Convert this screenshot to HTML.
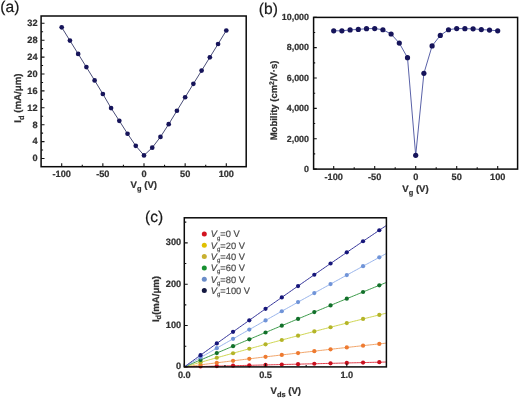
<!DOCTYPE html>
<html><head><meta charset="utf-8"><title>Figure</title><style>html,body{margin:0;padding:0;background:#fff;width:520px;height:398px;overflow:hidden}</style></head><body>
<svg width="520" height="398" viewBox="0 0 520 398" style="display:block;filter:blur(0.3px);font-family:'Liberation Sans', Arial, sans-serif" text-rendering="geometricPrecision">
<style>text[font-weight=bold]{stroke:#333;stroke-width:0.22px}</style>
<rect width="520" height="398" fill="#fff"/>
<text x="0.3" y="12" font-size="15.6" text-anchor="start" font-weight="normal" fill="#1a1a1a" stroke="#1a1a1a" stroke-width="0.2">(a)</text>
<text x="258.8" y="14" font-size="15.6" text-anchor="start" font-weight="normal" fill="#1a1a1a" stroke="#1a1a1a" stroke-width="0.2">(b)</text>
<text x="145" y="221.6" font-size="15.6" text-anchor="start" font-weight="normal" fill="#1a1a1a" stroke="#1a1a1a" stroke-width="0.2">(c)</text>
<polyline points="61.7,27.31 69.93,40.62 78.16,53.89 86.39,67.11 94.62,80.38 102.85,93.98 111.08,108.1 119.31,120.81 127.54,133.74 135.77,145.82 144,155.42 152.23,147.68 160.46,136.91 168.69,124.19 176.92,110.76 185.15,97.24 193.38,83.8 201.61,70.62 209.84,57.31 218.07,44 226.3,30.48" fill="none" stroke="#4a4e78" stroke-width="1"/>
<circle cx="61.7" cy="27.31" r="2.35" fill="#16145a"/>
<circle cx="69.93" cy="40.62" r="2.35" fill="#16145a"/>
<circle cx="78.16" cy="53.89" r="2.35" fill="#16145a"/>
<circle cx="86.39" cy="67.11" r="2.35" fill="#16145a"/>
<circle cx="94.62" cy="80.38" r="2.35" fill="#16145a"/>
<circle cx="102.85" cy="93.98" r="2.35" fill="#16145a"/>
<circle cx="111.08" cy="108.1" r="2.35" fill="#16145a"/>
<circle cx="119.31" cy="120.81" r="2.35" fill="#16145a"/>
<circle cx="127.54" cy="133.74" r="2.35" fill="#16145a"/>
<circle cx="135.77" cy="145.82" r="2.35" fill="#16145a"/>
<circle cx="144" cy="155.42" r="2.35" fill="#16145a"/>
<circle cx="152.23" cy="147.68" r="2.35" fill="#16145a"/>
<circle cx="160.46" cy="136.91" r="2.35" fill="#16145a"/>
<circle cx="168.69" cy="124.19" r="2.35" fill="#16145a"/>
<circle cx="176.92" cy="110.76" r="2.35" fill="#16145a"/>
<circle cx="185.15" cy="97.24" r="2.35" fill="#16145a"/>
<circle cx="193.38" cy="83.8" r="2.35" fill="#16145a"/>
<circle cx="201.61" cy="70.62" r="2.35" fill="#16145a"/>
<circle cx="209.84" cy="57.31" r="2.35" fill="#16145a"/>
<circle cx="218.07" cy="44" r="2.35" fill="#16145a"/>
<circle cx="226.3" cy="30.48" r="2.35" fill="#16145a"/>
<rect x="41.1" y="16" width="205.1" height="150.7" fill="none" stroke="#0a0a0a" stroke-width="1.5"/>
<path d="M61.7 166.7v-3.4M102.85 166.7v-3.4M144 166.7v-3.4M185.15 166.7v-3.4M226.3 166.7v-3.4" stroke="#111" stroke-width="1.1" fill="none"/>
<path d="M82.28 166.7v-2M123.42 166.7v-2M164.57 166.7v-2M205.72 166.7v-2" stroke="#111" stroke-width="1.1" fill="none"/>
<path d="M41.1 158.5h3.4M41.1 141.6h3.4M41.1 124.7h3.4M41.1 107.8h3.4M41.1 90.9h3.4M41.1 74h3.4M41.1 57.1h3.4M41.1 40.2h3.4M41.1 23.3h3.4" stroke="#111" stroke-width="1.1" fill="none"/>
<path d="M41.1 150.05h2M41.1 133.15h2M41.1 116.25h2M41.1 99.35h2M41.1 82.45h2M41.1 65.55h2M41.1 48.65h2M41.1 31.75h2" stroke="#111" stroke-width="1.1" fill="none"/>
<text x="37.5" y="161.3" font-size="9.2" text-anchor="end" font-weight="bold" fill="#303030">0</text>
<text x="37.5" y="144.4" font-size="9.2" text-anchor="end" font-weight="bold" fill="#303030">4</text>
<text x="37.5" y="127.5" font-size="9.2" text-anchor="end" font-weight="bold" fill="#303030">8</text>
<text x="37.5" y="110.6" font-size="9.2" text-anchor="end" font-weight="bold" fill="#303030">12</text>
<text x="37.5" y="93.7" font-size="9.2" text-anchor="end" font-weight="bold" fill="#303030">16</text>
<text x="37.5" y="76.8" font-size="9.2" text-anchor="end" font-weight="bold" fill="#303030">20</text>
<text x="37.5" y="59.9" font-size="9.2" text-anchor="end" font-weight="bold" fill="#303030">24</text>
<text x="37.5" y="43" font-size="9.2" text-anchor="end" font-weight="bold" fill="#303030">28</text>
<text x="37.5" y="26.1" font-size="9.2" text-anchor="end" font-weight="bold" fill="#303030">32</text>
<text x="61.7" y="177.3" font-size="9.2" text-anchor="middle" font-weight="bold" fill="#303030">-100</text>
<text x="102.85" y="177.3" font-size="9.2" text-anchor="middle" font-weight="bold" fill="#303030">-50</text>
<text x="144" y="177.3" font-size="9.2" text-anchor="middle" font-weight="bold" fill="#303030">0</text>
<text x="185.15" y="177.3" font-size="9.2" text-anchor="middle" font-weight="bold" fill="#303030">50</text>
<text x="226.3" y="177.3" font-size="9.2" text-anchor="middle" font-weight="bold" fill="#303030">100</text>
<text transform="translate(21.0 98.1) rotate(-90)" font-size="9.7" font-weight="bold" text-anchor="middle" fill="#303030">I<tspan font-size="7.4" dy="2.6">d</tspan><tspan dy="-2.6"> (mA/&#956;m)</tspan></text>
<text x="143.8" y="188.2" font-size="9.6" font-weight="bold" text-anchor="middle" fill="#303030">V<tspan font-size="7.4" dy="3">g</tspan><tspan dy="-3"> (V)</tspan></text>
<polyline points="333.7,30.81 341.9,30.81 350.1,29.9 358.3,29.44 366.5,28.68 374.7,28.53 382.9,29.75 391.1,34 399.3,43.11 407.5,57.68 415.7,155.3 423.9,73.37 432.1,45.91 440.3,35.39 448.5,29.75 456.7,28.53 464.9,28.68 473.1,28.84 481.3,29.6 489.5,30.05 497.7,30.81" fill="none" stroke="#5a62a8" stroke-width="1" stroke-linejoin="round"/>
<circle cx="333.7" cy="30.81" r="2.6" fill="#16145a"/>
<circle cx="341.9" cy="30.81" r="2.6" fill="#16145a"/>
<circle cx="350.1" cy="29.9" r="2.6" fill="#16145a"/>
<circle cx="358.3" cy="29.44" r="2.6" fill="#16145a"/>
<circle cx="366.5" cy="28.68" r="2.6" fill="#16145a"/>
<circle cx="374.7" cy="28.53" r="2.6" fill="#16145a"/>
<circle cx="382.9" cy="29.75" r="2.6" fill="#16145a"/>
<circle cx="391.1" cy="34" r="2.6" fill="#16145a"/>
<circle cx="399.3" cy="43.11" r="2.6" fill="#16145a"/>
<circle cx="407.5" cy="57.68" r="2.6" fill="#16145a"/>
<circle cx="415.7" cy="155.3" r="2.6" fill="#16145a"/>
<circle cx="423.9" cy="73.37" r="2.6" fill="#16145a"/>
<circle cx="432.1" cy="45.91" r="2.6" fill="#16145a"/>
<circle cx="440.3" cy="35.39" r="2.6" fill="#16145a"/>
<circle cx="448.5" cy="29.75" r="2.6" fill="#16145a"/>
<circle cx="456.7" cy="28.53" r="2.6" fill="#16145a"/>
<circle cx="464.9" cy="28.68" r="2.6" fill="#16145a"/>
<circle cx="473.1" cy="28.84" r="2.6" fill="#16145a"/>
<circle cx="481.3" cy="29.6" r="2.6" fill="#16145a"/>
<circle cx="489.5" cy="30.05" r="2.6" fill="#16145a"/>
<circle cx="497.7" cy="30.81" r="2.6" fill="#16145a"/>
<rect x="313.6" y="17.4" width="204" height="151.7" fill="none" stroke="#0a0a0a" stroke-width="1.5"/>
<path d="M333.7 169.1v-3M374.7 169.1v-3M415.7 169.1v-3M456.7 169.1v-3M497.7 169.1v-3" stroke="#111" stroke-width="1.1" fill="none"/>
<path d="M354.2 169.1v-1.8M395.2 169.1v-1.8M436.2 169.1v-1.8M477.2 169.1v-1.8" stroke="#111" stroke-width="1.1" fill="none"/>
<path d="M313.6 169.1h3.2M313.6 138.74h3.2M313.6 108.38h3.2M313.6 78.02h3.2M313.6 47.66h3.2M313.6 17.3h3.2" stroke="#111" stroke-width="1.1" fill="none"/>
<path d="M313.6 153.92h1.6M313.6 123.56h1.6M313.6 93.2h1.6M313.6 62.84h1.6M313.6 32.48h1.6" stroke="#111" stroke-width="1.1" fill="none"/>
<text x="309" y="171.9" font-size="8.9" text-anchor="end" font-weight="bold" fill="#303030">0</text>
<text x="309" y="141.54" font-size="8.9" text-anchor="end" font-weight="bold" fill="#303030">2,000</text>
<text x="309" y="111.18" font-size="8.9" text-anchor="end" font-weight="bold" fill="#303030">4,000</text>
<text x="309" y="80.82" font-size="8.9" text-anchor="end" font-weight="bold" fill="#303030">6,000</text>
<text x="309" y="50.46" font-size="8.9" text-anchor="end" font-weight="bold" fill="#303030">8,000</text>
<text x="309" y="20.1" font-size="8.9" text-anchor="end" font-weight="bold" fill="#303030">10,000</text>
<text x="333.7" y="180" font-size="9.2" text-anchor="middle" font-weight="bold" fill="#303030">-100</text>
<text x="374.7" y="180" font-size="9.2" text-anchor="middle" font-weight="bold" fill="#303030">-50</text>
<text x="415.7" y="180" font-size="9.2" text-anchor="middle" font-weight="bold" fill="#303030">0</text>
<text x="456.7" y="180" font-size="9.2" text-anchor="middle" font-weight="bold" fill="#303030">50</text>
<text x="497.7" y="180" font-size="9.2" text-anchor="middle" font-weight="bold" fill="#303030">100</text>
<text transform="translate(277.0 100.4) rotate(-90)" font-size="9.5" font-weight="bold" text-anchor="middle" fill="#303030">Mobility (cm<tspan font-size="6.8" dy="-3.4">2</tspan><tspan dy="3.4">/V&#183;s)</tspan></text>
<text x="415.5" y="192.2" font-size="9.6" font-weight="bold" text-anchor="middle" fill="#303030">V<tspan font-size="7.4" dy="3">g</tspan><tspan dy="-3"> (V)</tspan></text>
<polyline points="184.3,366.9 185.93,366.86 187.55,366.82 189.18,366.78 190.8,366.74 192.43,366.7 194.05,366.66 195.68,366.63 197.3,366.59 198.93,366.55 200.55,366.51 202.18,366.47 203.8,366.43 205.43,366.39 207.05,366.35 208.68,366.31 210.3,366.27 211.93,366.23 213.55,366.19 215.18,366.15 216.8,366.11 218.43,366.08 220.05,366.04 221.68,366 223.3,365.96 224.93,365.92 226.55,365.88 228.18,365.84 229.8,365.8 231.43,365.76 233.05,365.72 234.68,365.68 236.3,365.64 237.93,365.6 239.55,365.56 241.18,365.53 242.8,365.49 244.43,365.45 246.05,365.41 247.68,365.37 249.3,365.33 250.93,365.29 252.55,365.25 254.18,365.21 255.8,365.17 257.43,365.13 259.05,365.09 260.68,365.05 262.3,365.01 263.93,364.98 265.55,364.94 267.18,364.9 268.8,364.86 270.43,364.82 272.05,364.78 273.68,364.74 275.3,364.7 276.93,364.66 278.55,364.62 280.18,364.58 281.8,364.54 283.43,364.5 285.05,364.46 286.68,364.43 288.3,364.39 289.93,364.35 291.55,364.31 293.18,364.27 294.8,364.23 296.43,364.19 298.05,364.15 299.68,364.11 301.3,364.07 302.93,364.03 304.55,363.99 306.18,363.95 307.8,363.91 309.43,363.88 311.05,363.84 312.68,363.8 314.3,363.76 315.93,363.72 317.55,363.68 319.18,363.64 320.8,363.6 322.43,363.56 324.05,363.52 325.68,363.48 327.3,363.44 328.93,363.4 330.55,363.36 332.18,363.33 333.8,363.29 335.43,363.25 337.05,363.21 338.68,363.17 340.3,363.13 341.93,363.09 343.55,363.05 345.18,363.01 346.8,362.97 348.43,362.93 350.05,362.89 351.68,362.85 353.3,362.81 354.93,362.78 356.55,362.74 358.18,362.7 359.8,362.66 361.43,362.62 363.05,362.58 364.68,362.54 366.3,362.5 367.93,362.46 369.55,362.42 371.18,362.38 372.8,362.34 374.43,362.3 376.05,362.26 377.68,362.23 379.3,362.19 380.93,362.15 382.55,362.11 384.18,362.07 385.8,362.03 386.69,362.01" fill="none" stroke="#e23a48" stroke-width="1"/>
<polyline points="184.3,366.9 185.93,366.69 187.55,366.49 189.18,366.28 190.8,366.07 192.43,365.87 194.05,365.66 195.68,365.46 197.3,365.25 198.93,365.05 200.55,364.84 202.18,364.64 203.8,364.44 205.43,364.23 207.05,364.03 208.68,363.83 210.3,363.62 211.93,363.42 213.55,363.22 215.18,363.02 216.8,362.81 218.43,362.61 220.05,362.41 221.68,362.21 223.3,362.01 224.93,361.81 226.55,361.61 228.18,361.41 229.8,361.21 231.43,361.01 233.05,360.81 234.68,360.61 236.3,360.41 237.93,360.21 239.55,360.01 241.18,359.82 242.8,359.62 244.43,359.42 246.05,359.22 247.68,359.03 249.3,358.83 250.93,358.63 252.55,358.44 254.18,358.24 255.8,358.04 257.43,357.85 259.05,357.65 260.68,357.46 262.3,357.26 263.93,357.07 265.55,356.87 267.18,356.68 268.8,356.48 270.43,356.29 272.05,356.1 273.68,355.9 275.3,355.71 276.93,355.52 278.55,355.33 280.18,355.13 281.8,354.94 283.43,354.75 285.05,354.56 286.68,354.37 288.3,354.18 289.93,353.99 291.55,353.79 293.18,353.6 294.8,353.41 296.43,353.22 298.05,353.04 299.68,352.85 301.3,352.66 302.93,352.47 304.55,352.28 306.18,352.09 307.8,351.9 309.43,351.72 311.05,351.53 312.68,351.34 314.3,351.15 315.93,350.97 317.55,350.78 319.18,350.59 320.8,350.41 322.43,350.22 324.05,350.04 325.68,349.85 327.3,349.67 328.93,349.48 330.55,349.3 332.18,349.11 333.8,348.93 335.43,348.75 337.05,348.56 338.68,348.38 340.3,348.2 341.93,348.01 343.55,347.83 345.18,347.65 346.8,347.47 348.43,347.28 350.05,347.1 351.68,346.92 353.3,346.74 354.93,346.56 356.55,346.38 358.18,346.2 359.8,346.02 361.43,345.84 363.05,345.66 364.68,345.48 366.3,345.3 367.93,345.12 369.55,344.94 371.18,344.76 372.8,344.59 374.43,344.41 376.05,344.23 377.68,344.05 379.3,343.88 380.93,343.7 382.55,343.52 384.18,343.35 385.8,343.17 386.69,343.07" fill="none" stroke="#f2a468" stroke-width="1"/>
<polyline points="184.3,366.9 185.93,366.44 187.55,365.97 189.18,365.51 190.8,365.05 192.43,364.59 194.05,364.13 195.68,363.67 197.3,363.21 198.93,362.75 200.55,362.29 202.18,361.84 203.8,361.38 205.43,360.92 207.05,360.46 208.68,360.01 210.3,359.55 211.93,359.1 213.55,358.64 215.18,358.19 216.8,357.74 218.43,357.28 220.05,356.83 221.68,356.38 223.3,355.93 224.93,355.48 226.55,355.03 228.18,354.58 229.8,354.13 231.43,353.68 233.05,353.23 234.68,352.78 236.3,352.33 237.93,351.89 239.55,351.44 241.18,350.99 242.8,350.55 244.43,350.1 246.05,349.66 247.68,349.22 249.3,348.77 250.93,348.33 252.55,347.89 254.18,347.44 255.8,347 257.43,346.56 259.05,346.12 260.68,345.68 262.3,345.24 263.93,344.8 265.55,344.36 267.18,343.93 268.8,343.49 270.43,343.05 272.05,342.61 273.68,342.18 275.3,341.74 276.93,341.31 278.55,340.87 280.18,340.44 281.8,340.01 283.43,339.57 285.05,339.14 286.68,338.71 288.3,338.28 289.93,337.85 291.55,337.41 293.18,336.98 294.8,336.56 296.43,336.13 298.05,335.7 299.68,335.27 301.3,334.84 302.93,334.41 304.55,333.99 306.18,333.56 307.8,333.14 309.43,332.71 311.05,332.29 312.68,331.86 314.3,331.44 315.93,331.02 317.55,330.59 319.18,330.17 320.8,329.75 322.43,329.33 324.05,328.91 325.68,328.49 327.3,328.07 328.93,327.65 330.55,327.23 332.18,326.81 333.8,326.39 335.43,325.98 337.05,325.56 338.68,325.14 340.3,324.73 341.93,324.31 343.55,323.9 345.18,323.48 346.8,323.07 348.43,322.66 350.05,322.24 351.68,321.83 353.3,321.42 354.93,321.01 356.55,320.6 358.18,320.19 359.8,319.78 361.43,319.37 363.05,318.96 364.68,318.55 366.3,318.14 367.93,317.74 369.55,317.33 371.18,316.92 372.8,316.52 374.43,316.11 376.05,315.71 377.68,315.3 379.3,314.9 380.93,314.49 382.55,314.09 384.18,313.69 385.8,313.29 386.69,313.07" fill="none" stroke="#cfd650" stroke-width="1"/>
<polyline points="184.3,366.9 185.93,366.21 187.55,365.51 189.18,364.82 190.8,364.12 192.43,363.43 194.05,362.74 195.68,362.04 197.3,361.35 198.93,360.66 200.55,359.97 202.18,359.27 203.8,358.58 205.43,357.89 207.05,357.2 208.68,356.51 210.3,355.82 211.93,355.13 213.55,354.44 215.18,353.75 216.8,353.06 218.43,352.37 220.05,351.68 221.68,350.99 223.3,350.3 224.93,349.61 226.55,348.92 228.18,348.23 229.8,347.55 231.43,346.86 233.05,346.17 234.68,345.48 236.3,344.8 237.93,344.11 239.55,343.42 241.18,342.74 242.8,342.05 244.43,341.37 246.05,340.68 247.68,340 249.3,339.31 250.93,338.63 252.55,337.94 254.18,337.26 255.8,336.57 257.43,335.89 259.05,335.21 260.68,334.52 262.3,333.84 263.93,333.16 265.55,332.48 267.18,331.79 268.8,331.11 270.43,330.43 272.05,329.75 273.68,329.07 275.3,328.39 276.93,327.71 278.55,327.03 280.18,326.35 281.8,325.67 283.43,324.99 285.05,324.31 286.68,323.63 288.3,322.95 289.93,322.27 291.55,321.59 293.18,320.91 294.8,320.24 296.43,319.56 298.05,318.88 299.68,318.2 301.3,317.53 302.93,316.85 304.55,316.17 306.18,315.5 307.8,314.82 309.43,314.15 311.05,313.47 312.68,312.79 314.3,312.12 315.93,311.44 317.55,310.77 319.18,310.1 320.8,309.42 322.43,308.75 324.05,308.07 325.68,307.4 327.3,306.73 328.93,306.06 330.55,305.38 332.18,304.71 333.8,304.04 335.43,303.37 337.05,302.7 338.68,302.02 340.3,301.35 341.93,300.68 343.55,300.01 345.18,299.34 346.8,298.67 348.43,298 350.05,297.33 351.68,296.66 353.3,296 354.93,295.33 356.55,294.66 358.18,293.99 359.8,293.32 361.43,292.65 363.05,291.99 364.68,291.32 366.3,290.65 367.93,289.99 369.55,289.32 371.18,288.65 372.8,287.99 374.43,287.32 376.05,286.66 377.68,285.99 379.3,285.32 380.93,284.66 382.55,284 384.18,283.33 385.8,282.67 386.69,282.3" fill="none" stroke="#3a9a48" stroke-width="1"/>
<polyline points="184.3,366.9 185.93,365.96 187.55,365.02 189.18,364.07 190.8,363.13 192.43,362.19 194.05,361.25 195.68,360.31 197.3,359.37 198.93,358.44 200.55,357.5 202.18,356.56 203.8,355.62 205.43,354.69 207.05,353.75 208.68,352.81 210.3,351.88 211.93,350.94 213.55,350.01 215.18,349.08 216.8,348.14 218.43,347.21 220.05,346.28 221.68,345.35 223.3,344.42 224.93,343.49 226.55,342.56 228.18,341.63 229.8,340.7 231.43,339.77 233.05,338.84 234.68,337.91 236.3,336.99 237.93,336.06 239.55,335.13 241.18,334.21 242.8,333.28 244.43,332.36 246.05,331.43 247.68,330.51 249.3,329.59 250.93,328.66 252.55,327.74 254.18,326.82 255.8,325.9 257.43,324.98 259.05,324.06 260.68,323.14 262.3,322.22 263.93,321.3 265.55,320.38 267.18,319.46 268.8,318.55 270.43,317.63 272.05,316.71 273.68,315.8 275.3,314.88 276.93,313.97 278.55,313.05 280.18,312.14 281.8,311.23 283.43,310.31 285.05,309.4 286.68,308.49 288.3,307.58 289.93,306.67 291.55,305.76 293.18,304.85 294.8,303.94 296.43,303.03 298.05,302.12 299.68,301.21 301.3,300.31 302.93,299.4 304.55,298.49 306.18,297.59 307.8,296.68 309.43,295.78 311.05,294.87 312.68,293.97 314.3,293.07 315.93,292.16 317.55,291.26 319.18,290.36 320.8,289.46 322.43,288.56 324.05,287.66 325.68,286.76 327.3,285.86 328.93,284.96 330.55,284.06 332.18,283.16 333.8,282.26 335.43,281.37 337.05,280.47 338.68,279.58 340.3,278.68 341.93,277.78 343.55,276.89 345.18,276 346.8,275.1 348.43,274.21 350.05,273.32 351.68,272.43 353.3,271.53 354.93,270.64 356.55,269.75 358.18,268.86 359.8,267.97 361.43,267.08 363.05,266.2 364.68,265.31 366.3,264.42 367.93,263.53 369.55,262.65 371.18,261.76 372.8,260.88 374.43,259.99 376.05,259.11 377.68,258.22 379.3,257.34 380.93,256.46 382.55,255.57 384.18,254.69 385.8,253.81 386.69,253.33" fill="none" stroke="#98b4ec" stroke-width="1"/>
<polyline points="184.3,366.9 185.93,365.72 187.55,364.54 189.18,363.37 190.8,362.19 192.43,361.02 194.05,359.84 195.68,358.67 197.3,357.49 198.93,356.32 200.55,355.15 202.18,353.98 203.8,352.81 205.43,351.64 207.05,350.47 208.68,349.3 210.3,348.13 211.93,346.96 213.55,345.79 215.18,344.63 216.8,343.46 218.43,342.3 220.05,341.13 221.68,339.97 223.3,338.81 224.93,337.64 226.55,336.48 228.18,335.32 229.8,334.16 231.43,333 233.05,331.84 234.68,330.69 236.3,329.53 237.93,328.37 239.55,327.21 241.18,326.06 242.8,324.9 244.43,323.75 246.05,322.6 247.68,321.44 249.3,320.29 250.93,319.14 252.55,317.99 254.18,316.84 255.8,315.69 257.43,314.54 259.05,313.39 260.68,312.24 262.3,311.1 263.93,309.95 265.55,308.8 267.18,307.66 268.8,306.51 270.43,305.37 272.05,304.23 273.68,303.08 275.3,301.94 276.93,300.8 278.55,299.66 280.18,298.52 281.8,297.38 283.43,296.24 285.05,295.11 286.68,293.97 288.3,292.83 289.93,291.7 291.55,290.56 293.18,289.43 294.8,288.29 296.43,287.16 298.05,286.03 299.68,284.9 301.3,283.76 302.93,282.63 304.55,281.5 306.18,280.38 307.8,279.25 309.43,278.12 311.05,276.99 312.68,275.86 314.3,274.74 315.93,273.61 317.55,272.49 319.18,271.37 320.8,270.24 322.43,269.12 324.05,268 325.68,266.88 327.3,265.76 328.93,264.64 330.55,263.52 332.18,262.4 333.8,261.28 335.43,260.16 337.05,259.05 338.68,257.93 340.3,256.82 341.93,255.7 343.55,254.59 345.18,253.47 346.8,252.36 348.43,251.25 350.05,250.14 351.68,249.03 353.3,247.92 354.93,246.81 356.55,245.7 358.18,244.59 359.8,243.48 361.43,242.38 363.05,241.27 364.68,240.17 366.3,239.06 367.93,237.96 369.55,236.85 371.18,235.75 372.8,234.65 374.43,233.55 376.05,232.45 377.68,231.35 379.3,230.25 380.93,229.15 382.55,228.05 384.18,226.95 385.8,225.86 386.69,225.25" fill="none" stroke="#34349a" stroke-width="1"/>
<circle cx="200.55" cy="366.51" r="2.1" fill="#c8101e"/>
<circle cx="216.8" cy="366.11" r="2.1" fill="#c8101e"/>
<circle cx="233.05" cy="365.72" r="2.1" fill="#c8101e"/>
<circle cx="249.3" cy="365.33" r="2.1" fill="#c8101e"/>
<circle cx="265.55" cy="364.94" r="2.1" fill="#c8101e"/>
<circle cx="281.8" cy="364.54" r="2.1" fill="#c8101e"/>
<circle cx="298.05" cy="364.15" r="2.1" fill="#c8101e"/>
<circle cx="314.3" cy="363.76" r="2.1" fill="#c8101e"/>
<circle cx="330.55" cy="363.36" r="2.1" fill="#c8101e"/>
<circle cx="346.8" cy="362.97" r="2.1" fill="#c8101e"/>
<circle cx="363.05" cy="362.58" r="2.1" fill="#c8101e"/>
<circle cx="379.3" cy="362.19" r="2.1" fill="#c8101e"/>
<circle cx="200.55" cy="364.84" r="2.1" fill="#ee7a30"/>
<circle cx="216.8" cy="362.81" r="2.1" fill="#ee7a30"/>
<circle cx="233.05" cy="360.81" r="2.1" fill="#ee7a30"/>
<circle cx="249.3" cy="358.83" r="2.1" fill="#ee7a30"/>
<circle cx="265.55" cy="356.87" r="2.1" fill="#ee7a30"/>
<circle cx="281.8" cy="354.94" r="2.1" fill="#ee7a30"/>
<circle cx="298.05" cy="353.04" r="2.1" fill="#ee7a30"/>
<circle cx="314.3" cy="351.15" r="2.1" fill="#ee7a30"/>
<circle cx="330.55" cy="349.3" r="2.1" fill="#ee7a30"/>
<circle cx="346.8" cy="347.47" r="2.1" fill="#ee7a30"/>
<circle cx="363.05" cy="345.66" r="2.1" fill="#ee7a30"/>
<circle cx="379.3" cy="343.88" r="2.1" fill="#ee7a30"/>
<circle cx="200.55" cy="362.29" r="2.1" fill="#b4b428"/>
<circle cx="216.8" cy="357.74" r="2.1" fill="#b4b428"/>
<circle cx="233.05" cy="353.23" r="2.1" fill="#b4b428"/>
<circle cx="249.3" cy="348.77" r="2.1" fill="#b4b428"/>
<circle cx="265.55" cy="344.36" r="2.1" fill="#b4b428"/>
<circle cx="281.8" cy="340.01" r="2.1" fill="#b4b428"/>
<circle cx="298.05" cy="335.7" r="2.1" fill="#b4b428"/>
<circle cx="314.3" cy="331.44" r="2.1" fill="#b4b428"/>
<circle cx="330.55" cy="327.23" r="2.1" fill="#b4b428"/>
<circle cx="346.8" cy="323.07" r="2.1" fill="#b4b428"/>
<circle cx="363.05" cy="318.96" r="2.1" fill="#b4b428"/>
<circle cx="379.3" cy="314.9" r="2.1" fill="#b4b428"/>
<circle cx="200.55" cy="359.97" r="2.1" fill="#12702a"/>
<circle cx="216.8" cy="353.06" r="2.1" fill="#12702a"/>
<circle cx="233.05" cy="346.17" r="2.1" fill="#12702a"/>
<circle cx="249.3" cy="339.31" r="2.1" fill="#12702a"/>
<circle cx="265.55" cy="332.48" r="2.1" fill="#12702a"/>
<circle cx="281.8" cy="325.67" r="2.1" fill="#12702a"/>
<circle cx="298.05" cy="318.88" r="2.1" fill="#12702a"/>
<circle cx="314.3" cy="312.12" r="2.1" fill="#12702a"/>
<circle cx="330.55" cy="305.38" r="2.1" fill="#12702a"/>
<circle cx="346.8" cy="298.67" r="2.1" fill="#12702a"/>
<circle cx="363.05" cy="291.99" r="2.1" fill="#12702a"/>
<circle cx="379.3" cy="285.32" r="2.1" fill="#12702a"/>
<circle cx="200.55" cy="357.5" r="2.1" fill="#7094d8"/>
<circle cx="216.8" cy="348.14" r="2.1" fill="#7094d8"/>
<circle cx="233.05" cy="338.84" r="2.1" fill="#7094d8"/>
<circle cx="249.3" cy="329.59" r="2.1" fill="#7094d8"/>
<circle cx="265.55" cy="320.38" r="2.1" fill="#7094d8"/>
<circle cx="281.8" cy="311.23" r="2.1" fill="#7094d8"/>
<circle cx="298.05" cy="302.12" r="2.1" fill="#7094d8"/>
<circle cx="314.3" cy="293.07" r="2.1" fill="#7094d8"/>
<circle cx="330.55" cy="284.06" r="2.1" fill="#7094d8"/>
<circle cx="346.8" cy="275.1" r="2.1" fill="#7094d8"/>
<circle cx="363.05" cy="266.2" r="2.1" fill="#7094d8"/>
<circle cx="379.3" cy="257.34" r="2.1" fill="#7094d8"/>
<circle cx="200.55" cy="355.15" r="2.1" fill="#16167a"/>
<circle cx="216.8" cy="343.46" r="2.1" fill="#16167a"/>
<circle cx="233.05" cy="331.84" r="2.1" fill="#16167a"/>
<circle cx="249.3" cy="320.29" r="2.1" fill="#16167a"/>
<circle cx="265.55" cy="308.8" r="2.1" fill="#16167a"/>
<circle cx="281.8" cy="297.38" r="2.1" fill="#16167a"/>
<circle cx="298.05" cy="286.03" r="2.1" fill="#16167a"/>
<circle cx="314.3" cy="274.74" r="2.1" fill="#16167a"/>
<circle cx="330.55" cy="263.52" r="2.1" fill="#16167a"/>
<circle cx="346.8" cy="252.36" r="2.1" fill="#16167a"/>
<circle cx="363.05" cy="241.27" r="2.1" fill="#16167a"/>
<circle cx="379.3" cy="230.25" r="2.1" fill="#16167a"/>
<rect x="184.3" y="217.8" width="202.1" height="149.1" fill="none" stroke="#0a0a0a" stroke-width="1.5"/>
<path d="M184.3 366.9v-3.4M265.55 366.9v-3.4M346.8 366.9v-3.4" stroke="#111" stroke-width="1.1" fill="none"/>
<path d="M224.93 366.9v-2M306.18 366.9v-2" stroke="#111" stroke-width="1.1" fill="none"/>
<path d="M184.3 366.9h3.4M184.3 325.55h3.4M184.3 284.2h3.4M184.3 242.85h3.4" stroke="#111" stroke-width="1.1" fill="none"/>
<path d="M184.3 346.22h2M184.3 304.88h2M184.3 263.52h2M184.3 222.17h2" stroke="#111" stroke-width="1.1" fill="none"/>
<text x="181.2" y="369.2" font-size="9.2" text-anchor="end" font-weight="bold" fill="#303030">0</text>
<text x="181.2" y="327.85" font-size="9.2" text-anchor="end" font-weight="bold" fill="#303030">100</text>
<text x="181.2" y="286.5" font-size="9.2" text-anchor="end" font-weight="bold" fill="#303030">200</text>
<text x="181.2" y="245.15" font-size="9.2" text-anchor="end" font-weight="bold" fill="#303030">300</text>
<text x="184.3" y="377.8" font-size="9.2" text-anchor="middle" font-weight="bold" fill="#303030">0.0</text>
<text x="265.55" y="377.8" font-size="9.2" text-anchor="middle" font-weight="bold" fill="#303030">0.5</text>
<text x="346.8" y="377.8" font-size="9.2" text-anchor="middle" font-weight="bold" fill="#303030">1.0</text>
<circle cx="204.3" cy="234" r="2.5" fill="#d21420"/>
<text x="210.8" y="237.3" font-size="9.3" fill="#4a4a4a" stroke="#4a4a4a" stroke-width="0.18"><tspan font-style="italic">V</tspan><tspan font-size="6" dy="2.2">g</tspan><tspan dy="-2.2">=0 V</tspan></text>
<circle cx="204.3" cy="245.3" r="2.5" fill="#e0c000"/>
<text x="210.8" y="248.6" font-size="9.3" fill="#4a4a4a" stroke="#4a4a4a" stroke-width="0.18"><tspan font-style="italic">V</tspan><tspan font-size="6" dy="2.2">g</tspan><tspan dy="-2.2">=20 V</tspan></text>
<circle cx="204.3" cy="256.6" r="2.5" fill="#c8b030"/>
<text x="210.8" y="259.9" font-size="9.3" fill="#4a4a4a" stroke="#4a4a4a" stroke-width="0.18"><tspan font-style="italic">V</tspan><tspan font-size="6" dy="2.2">g</tspan><tspan dy="-2.2">=40 V</tspan></text>
<circle cx="204.3" cy="267.9" r="2.5" fill="#179030"/>
<text x="210.8" y="271.2" font-size="9.3" fill="#4a4a4a" stroke="#4a4a4a" stroke-width="0.18"><tspan font-style="italic">V</tspan><tspan font-size="6" dy="2.2">g</tspan><tspan dy="-2.2">=60 V</tspan></text>
<circle cx="204.3" cy="279.2" r="2.5" fill="#6a8cc8"/>
<text x="210.8" y="282.5" font-size="9.3" fill="#4a4a4a" stroke="#4a4a4a" stroke-width="0.18"><tspan font-style="italic">V</tspan><tspan font-size="6" dy="2.2">g</tspan><tspan dy="-2.2">=80 V</tspan></text>
<circle cx="204.3" cy="290.5" r="2.5" fill="#141840"/>
<text x="210.8" y="293.8" font-size="9.3" fill="#4a4a4a" stroke="#4a4a4a" stroke-width="0.18"><tspan font-style="italic">V</tspan><tspan font-size="6" dy="2.2">g</tspan><tspan dy="-2.2">=100 V</tspan></text>
<text transform="translate(158.8 299) rotate(-90)" font-size="9.6" font-weight="bold" text-anchor="middle" fill="#303030">I<tspan font-size="7.4" dy="2.6">d</tspan><tspan dy="-2.6">(mA/&#956;m)</tspan></text>
<text x="285.8" y="394.2" font-size="9.6" font-weight="bold" text-anchor="middle" fill="#303030">V<tspan font-size="7.4" dy="3">ds</tspan><tspan dy="-3"> (V)</tspan></text>
</svg>
</body></html>
